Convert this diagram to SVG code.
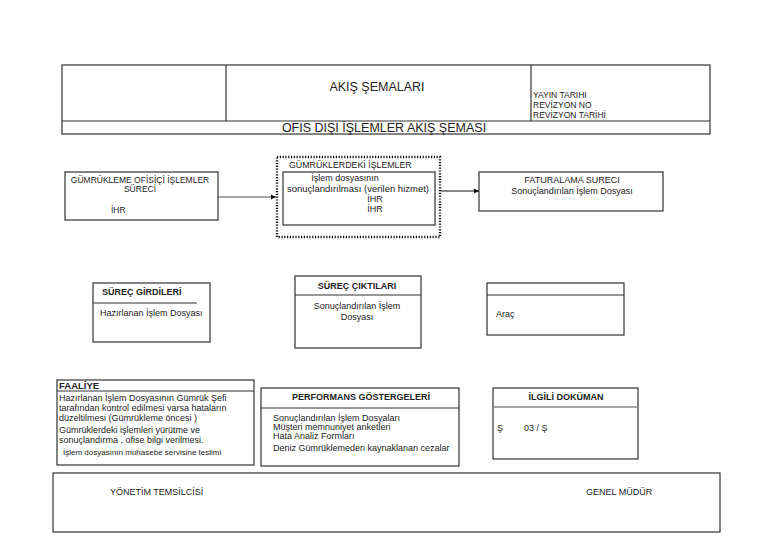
<svg xmlns="http://www.w3.org/2000/svg" width="768" height="543" viewBox="0 0 768 543">
<style>
text{font-family:"Liberation Sans",Arial,sans-serif;fill:#222;}
.box{fill:#fff;stroke:#333;stroke-width:1.2;}
.ln{stroke:#333;stroke-width:1.2;fill:none;}
.t9{font-size:9px;}
.t8{font-size:8px;}
.b{font-weight:bold;font-size:9px;}
.c{text-anchor:middle;}
</style>
<defs>
<marker id="ah" markerWidth="6" markerHeight="6" refX="5" refY="3" orient="auto" markerUnits="userSpaceOnUse">
<path d="M0,0.5 L5,3 L0,5.5 Z" fill="#111"/>
</marker>
</defs>
<rect width="768" height="543" fill="#fff"/>

<g id="header">
<rect class="box" x="62" y="65" width="648" height="69"/>
<line class="ln" x1="226" y1="65" x2="226" y2="121"/>
<line class="ln" x1="531" y1="65" x2="531" y2="121"/>
<line class="ln" x1="62" y1="121" x2="710" y2="121"/>
<text class="c" x="377" y="91" style="font-size:12.5px">AKIŞ ŞEMALARI</text>
<text x="533" y="98" style="font-size:8.5px">YAYIN TARIHI</text>
<text x="533" y="108" style="font-size:8.5px">REVİZYON NO</text>
<text x="533" y="118" style="font-size:8.5px">REVİZYON TARİHİ</text>
<text class="c" x="384" y="132" style="font-size:12.5px">OFIS DIŞI  İŞLEMLER AKIŞ ŞEMASI</text>
</g>

<g id="connectors">
<line x1="218" y1="197" x2="276" y2="197" stroke="#888" stroke-width="1.3" marker-end="url(#ah)"/>
<line x1="441" y1="191" x2="479" y2="191" stroke="#111" stroke-width="1" marker-end="url(#ah)"/>
</g>

<g id="gumrukleme-ofisici">
<rect class="box" x="65" y="172" width="153" height="48"/>
<text class="c" x="140" y="183" style="font-size:8.5px">GÜMRÜKLEME OFİSİÇİ İŞLEMLER</text>
<text class="c" x="140" y="192" style="font-size:8.5px">SÜRECİ</text>
<text x="111" y="213" style="font-size:8.5px">İHR</text>
</g>

<g id="gumruklerdeki-islemler">
<rect x="277" y="157" width="163" height="80" fill="none" stroke="#111" stroke-width="2.4" stroke-dasharray="1.2 1.6"/>
<text x="289" y="168" style="font-size:8.8px">GÜMRÜKLERDEKİ İŞLEMLER</text>
<rect class="box" x="283" y="172" width="152" height="53"/>
<text class="c t9" x="345" y="181">İşlem dosyasının</text>
<text class="c" x="358" y="192" style="font-size:9.5px">sonuçlandırılması (verilen hizmet)</text>
<text class="c t9" x="375" y="202">İHR</text>
<text class="c t9" x="375" y="212">İHR</text>
</g>

<g id="faturalama">
<rect class="box" x="479" y="172" width="184" height="39"/>
<text class="c t9" x="572" y="183">FATURALAMA SURECI</text>
<text class="c t9" x="572" y="194">Sonuçlandırılan İşlem Dosyası</text>
</g>

<g id="surec-girdileri">
<rect class="box" x="93" y="283" width="117" height="59"/>
<line class="ln" x1="93" y1="303" x2="197" y2="303"/>
<text class="b" x="102" y="295">SÜREÇ GİRDİLERİ</text>
<text class="t9" x="100" y="316">Hazırlanan İşlem Dosyası</text>
</g>

<g id="surec-ciktilari">
<rect class="box" x="295" y="276" width="126" height="72"/>
<line class="ln" x1="295" y1="295" x2="421" y2="295"/>
<text class="b c" x="357" y="289">SÜREÇ ÇIKTILARI</text>
<text class="c t9" x="357" y="309">Sonuçlandırılan İşlem</text>
<text class="c t9" x="357" y="320">Dosyası</text>
</g>

<g id="arac">
<rect class="box" x="487" y="283" width="137" height="52"/>
<line class="ln" x1="487" y1="295" x2="624" y2="295"/>
<text class="t9" x="496" y="317">Araç</text>
</g>

<g id="faaliye">
<rect class="box" x="57" y="380" width="197" height="85"/>
<line class="ln" x1="57" y1="391" x2="254" y2="391"/>
<text class="b" x="59" y="389" style="font-size:9.5px">FAALİYE</text>
<text class="t9" x="59" y="401"> Hazırlanan İşlem Dosyasının Gümrük Şefi</text>
<text class="t9" x="59" y="411">tarafından kontrol edilmesi varsa hataların</text>
<text class="t9" x="59" y="421">düzeltilmesi (Gümrükleme öncesi )</text>
<text class="t9" x="59" y="433"> Gümrüklerdeki işlemleri yürütme ve</text>
<text class="t9" x="59" y="443">sonuçlandırma , ofise bilgi verilmesi.</text>
<text class="t8" x="63" y="455">İşlem dosyasının muhasebe servisine teslimi</text>
</g>

<g id="performans">
<rect class="box" x="261" y="388" width="198" height="78"/>
<line class="ln" x1="261" y1="408" x2="459" y2="408"/>
<text class="b c" x="361" y="400">PERFORMANS GÖSTERGELERİ</text>
<text class="t9" x="273" y="421">Sonuçlandırılan İşlem Dosyaları</text>
<text class="t9" x="273" y="430">Müşteri memnuniyet anketleri</text>
<text class="t9" x="273" y="439">Hata Analiz Formları</text>
<text class="t9" x="273" y="451">Deniz Gümrüklemeden kaynaklanan cezalar</text>
</g>

<g id="ilgili-dokuman">
<rect class="box" x="493" y="388" width="145" height="71"/>
<line x1="493" y1="407" x2="638" y2="407" stroke="#888" stroke-width="1.5"/>
<text class="b c" x="566" y="400">İLGİLİ DOKÜMAN</text>
<text class="t9" x="497" y="431">Ş</text>
<text class="t9" x="524" y="431">03 / Ş</text>
</g>

<g id="onay">
<rect class="box" x="53" y="473" width="667" height="59"/>
<text class="t9" x="110" y="495">YÖNETİM TEMSİLCİSİ</text>
<text class="t9" x="586" y="495">GENEL MÜDÜR</text>
</g>
</svg>
